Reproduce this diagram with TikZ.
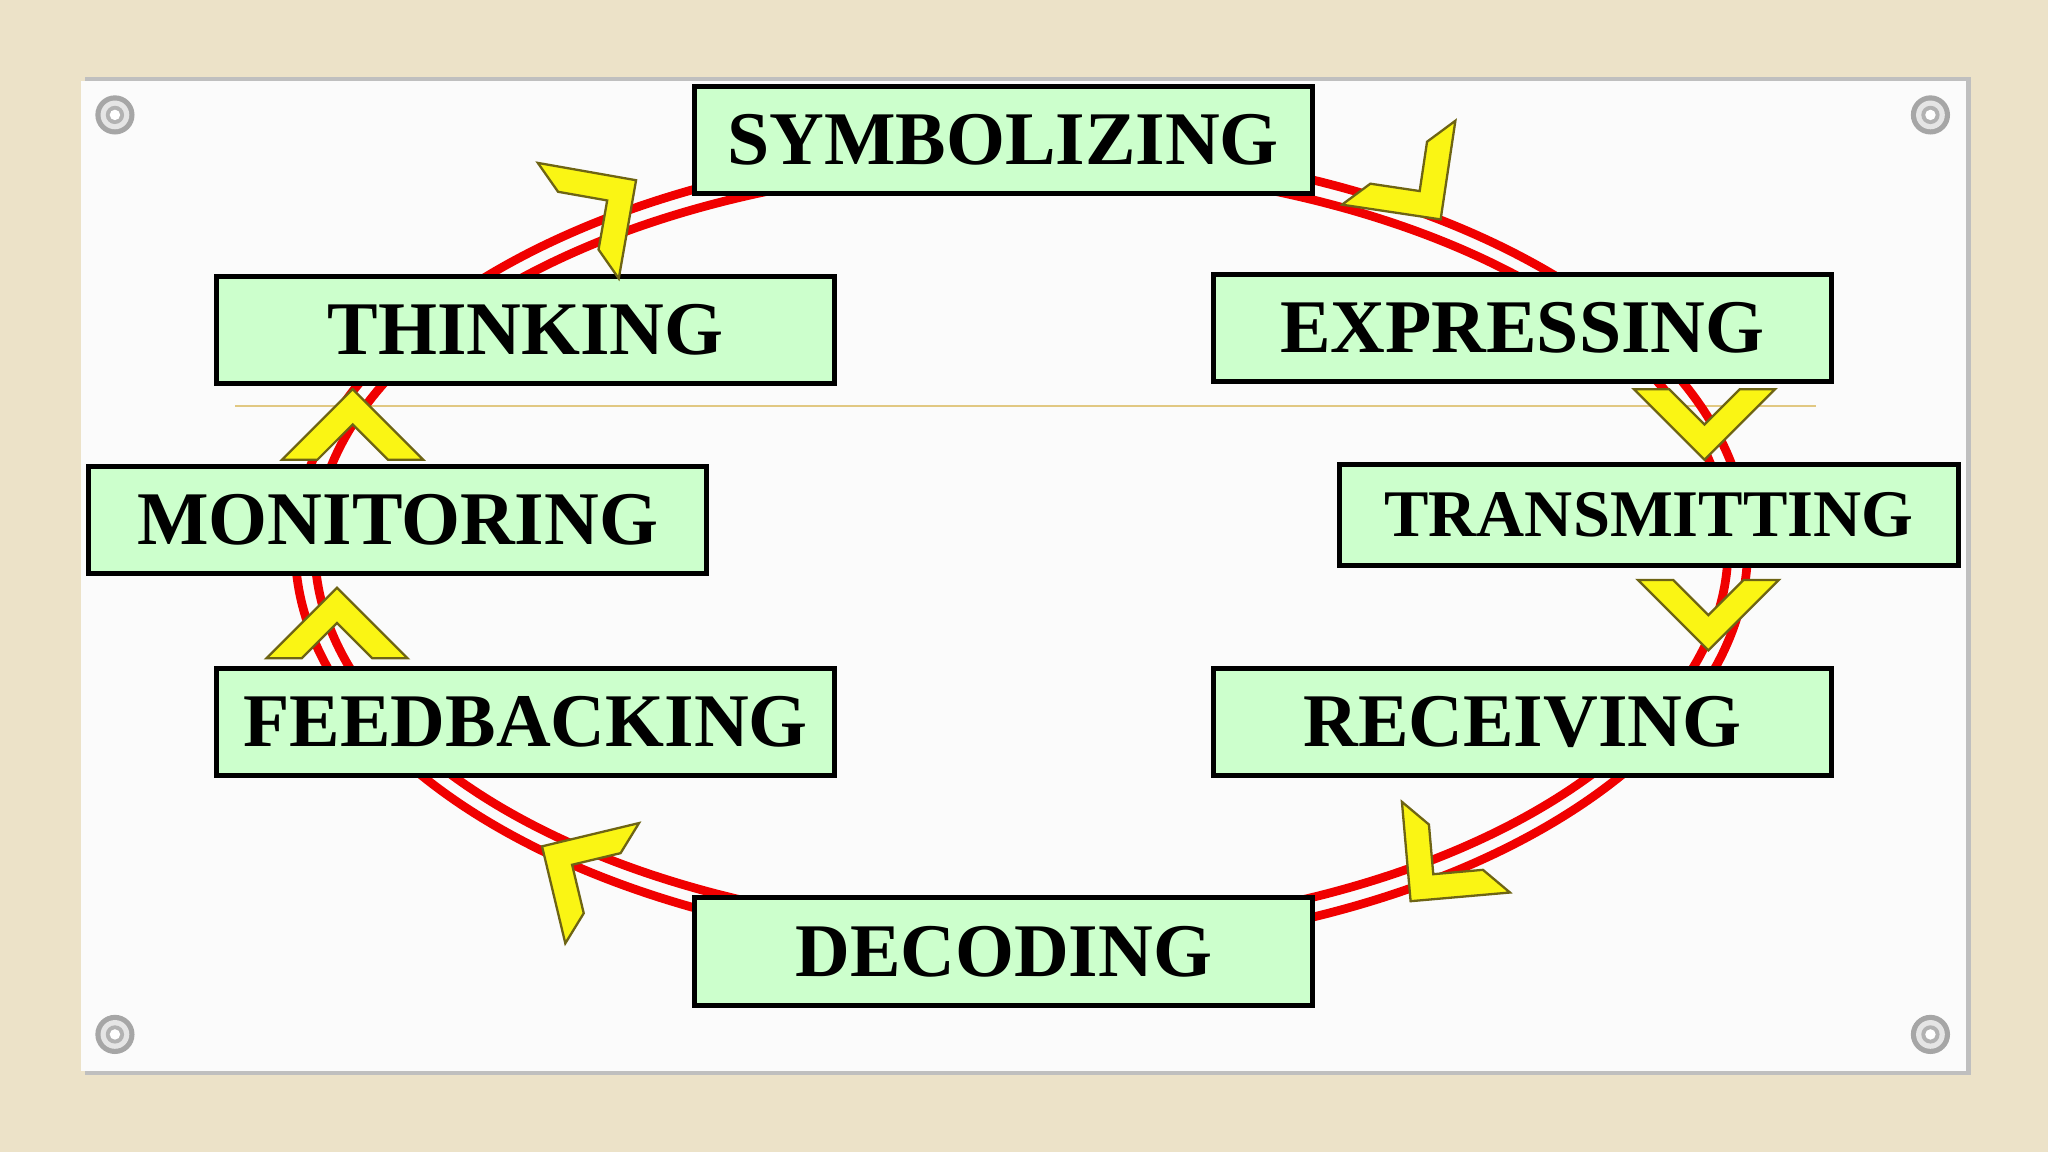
\documentclass[tikz,border=0pt]{standalone}
\usepackage{fontspec}
\setmainfont{Liberation Serif}
\definecolor{canvas}{RGB}{236,226,200}
\definecolor{boxg}{RGB}{204,255,204}
\definecolor{ringred}{RGB}{240,0,0}
\definecolor{chevy}{RGB}{250,245,20}
\definecolor{chevo}{RGB}{110,100,20}
\begin{document}
\begin{tikzpicture}[x=0.01cm,y=0.01cm,
  lbl/.style={draw=black,line width=1.1pt,fill=boxg,minimum width=4.73cm,minimum height=0.82cm,inner sep=0pt,font=\fontsize{16.5}{18}\selectfont\bfseries},
  chev/.style={fill=chevy,draw=chevo,line width=0.5pt,line join=miter}]
\useasboundingbox (0,0) rectangle (1568,882);
\fill[canvas] (0,0) rectangle (1568,882);
\fill[black!25] (65,59) rectangle (1509,823);
\fill[white!97!gray] (62,62) rectangle (1505,820);
\draw[color={rgb,255:red,225;green,200;blue,130},line width=0.5pt] (180,571) -- (1390,571);
\foreach \p in {(88,794),(1478,794),(88,90),(1478,90)}{
  \fill[gray!70] \p circle (15);
  \fill[gray!20] \p circle (11);
  \fill[gray!60] \p circle (7);
  \fill[white] \p circle (4);
}
\draw[ringred,line width=1.9pt] (782,462) ellipse (556 and 308);
\draw[ringred,line width=1.9pt] (782,462) ellipse (541 and 293);
\node[lbl] (sym) at (768,775) {SYMBOLIZING};
\node[lbl] (thi) at (402.5,629.5) {THINKING};
\node[lbl] (exp) at (1165.5,631) {EXPRESSING};
\node[lbl] (mon) at (304.5,484) {MONITORING};
\node[lbl,minimum height=0.77cm,font=\fontsize{14.5}{16}\selectfont\bfseries] (tra) at (1262.5,487.5) {TRANSMITTING};
\node[lbl] (fee) at (402.5,329) {FEEDBACKING};
\node[lbl] (rec) at (1165.5,329.5) {RECEIVING};
\node[lbl] (dec) at (768.5,153.5) {DECODING};
\foreach \x/\y/\r in {1103/714/-53.5,1305/530/-90,1308/384/-90,1080/192/-130,415/234/148.5,258/432/90,270/584/90,487/744/35}{
  \draw[chev,shift={(\x,\y)},rotate=\r] (0,0) -- (-54,54) -- (-54,27) -- (-27,0) -- (-54,-27) -- (-54,-54) -- cycle;
}
\end{tikzpicture}
\end{document}
